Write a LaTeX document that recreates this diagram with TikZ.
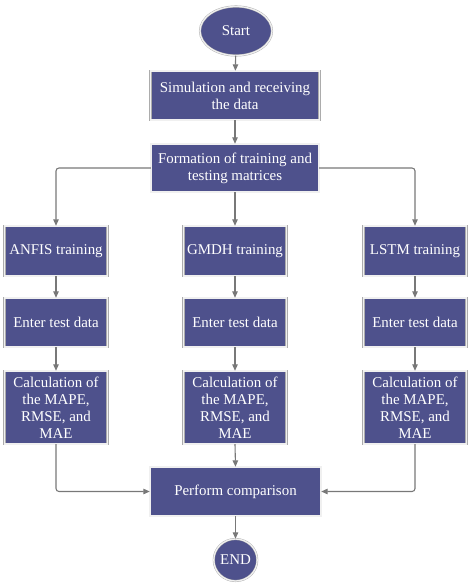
\documentclass[tikz,border=0pt]{standalone}
\usepackage{fontspec}
\setmainfont{Liberation Serif}
\usetikzlibrary{shapes.geometric,arrows.meta}
\definecolor{boxfill}{RGB}{78,81,140}
\definecolor{edgec}{RGB}{120,120,120}
\tikzset{
  box/.style={rectangle, fill=boxfill, draw=gray!65, double=gray!12, double distance=1.3pt,
    text=white, align=center, inner sep=1pt, font=\fontsize{15}{17}\selectfont},
  term/.style={ellipse, fill=boxfill, draw=gray!65, double=gray!12, double distance=1.3pt,
    text=white, inner sep=0pt, font=\fontsize{15}{17}\selectfont},
  conn/.style={draw=edgec, line width=1.1pt, -{Triangle[length=6.5pt,width=5.5pt]}, rounded corners=3pt}
}
\begin{document}
\begin{tikzpicture}[x=1bp,y=-1bp]
\useasboundingbox (0,0) rectangle (474,588);
\node[term, minimum width=72bp, minimum height=49bp] (start) at (236,31) {Start};
\node[box, minimum width=169bp, minimum height=49bp] (sim) at (235,95.5) {Simulation and receiving\\the data};
\node[box, minimum width=168bp, minimum height=48bp] (form) at (235,168) {Formation of training and\\testing matrices};
\node[box, minimum width=103bp, minimum height=50bp] (anfis) at (56,251) {ANFIS training};
\node[box, minimum width=103bp, minimum height=50bp] (gmdh) at (235,251) {GMDH training};
\node[box, minimum width=103bp, minimum height=50bp] (lstm) at (415,251) {LSTM training};
\node[box, minimum width=103bp, minimum height=49bp] (entL) at (56,322.5) {Enter test data};
\node[box, minimum width=103bp, minimum height=49bp] (entM) at (235,322.5) {Enter test data};
\node[box, minimum width=103bp, minimum height=49bp] (entR) at (415,322.5) {Enter test data};
\node[box, minimum width=103bp, minimum height=73bp] (calL) at (56,407.5) {Calculation of\\the MAPE,\\RMSE, and\\MAE};
\node[box, minimum width=103bp, minimum height=73bp] (calM) at (235,407.5) {Calculation of\\the MAPE,\\RMSE, and\\MAE};
\node[box, minimum width=103bp, minimum height=73bp] (calR) at (415,407.5) {Calculation of\\the MAPE,\\RMSE, and\\MAE};
\node[box, minimum width=171bp, minimum height=49bp] (perf) at (235.5,491.5) {Perform comparison};
\node[term, minimum width=42bp, minimum height=42bp] (end) at (235.5,560) {END};
\draw[conn] (start) -- (sim);
\draw[conn] (sim) -- (form);
\draw[conn] (form.west) -| (anfis.north);
\draw[conn] (form.south) -- (gmdh.north);
\draw[conn] (form.east) -| (lstm.north);
\draw[conn] (anfis) -- (entL);
\draw[conn] (gmdh) -- (entM);
\draw[conn] (lstm) -- (entR);
\draw[conn] (entL) -- (calL);
\draw[conn] (entM) -- (calM);
\draw[conn] (entR) -- (calR);
\draw[conn] (calL.south) |- (perf.west);
\draw[conn] (calM.south) -- (perf.north);
\draw[conn] (calR.south) |- (perf.east);
\draw[conn] (perf) -- (end);
\end{tikzpicture}
\end{document}
